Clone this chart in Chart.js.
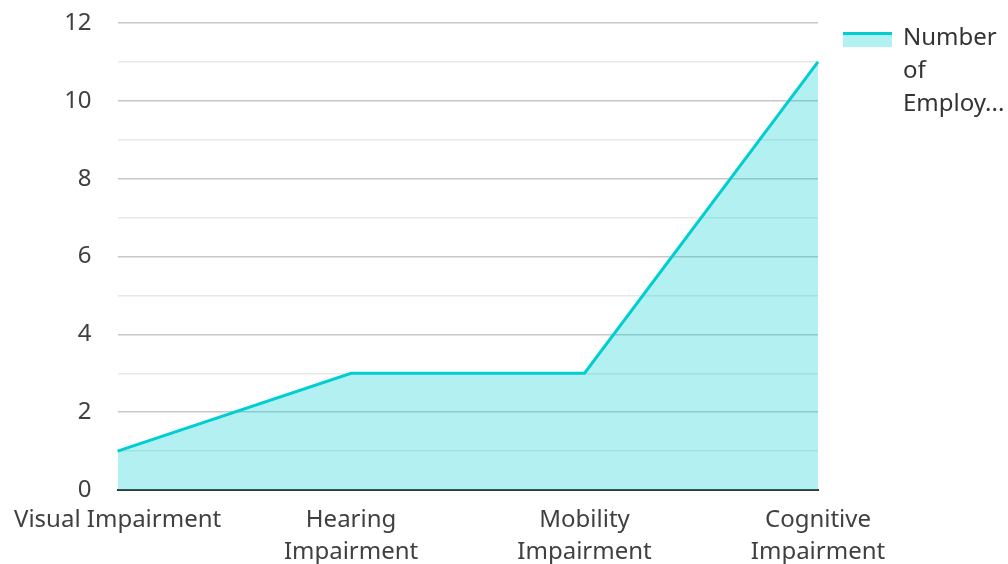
<!DOCTYPE html>
<html><head><meta charset="utf-8">
<script src="https://cdn.jsdelivr.net/npm/chart.js@4/dist/chart.umd.min.js"></script>
<style>
html,body{margin:0;padding:0;background:#fff;}
#wrap{position:relative;width:1008px;height:564px;}
#legend{position:absolute;left:843px;top:19px;font-family:"Noto Sans";font-size:24px;color:#333;line-height:33px;}
#legend .sw{position:absolute;left:0;top:13px;width:49px;height:15px;background:rgba(0,206,209,0.3);border-top:3px solid #00CED1;box-sizing:border-box;}
#legend .tx{position:absolute;left:60px;top:0;width:130px;}
</style></head>
<body>
<div id="wrap"><canvas id="c" width="1008" height="564"></canvas>
<div id="legend"><div class="sw"></div><div class="tx">Number<br>of<br>Employ...</div></div></div>
<script>
const categories = ["Visual Impairment", "Hearing Impairment", "Mobility Impairment", "Cognitive Impairment"];
const tickLabels = [["Visual Impairment"], ["Hearing", "Impairment"], ["Mobility", "Impairment"], ["Cognitive", "Impairment"]];
const seriesName = "Number of Employees";
const employees = [1, 3, 3, 11];
const yMax = 12;

const FONT = {family: "Noto Sans", size: 24, lineHeight: 1.35};
new Chart(document.getElementById('c'), {
  type: 'line',
  data: {
    labels: tickLabels,
    datasets: [{
      label: seriesName,
      data: employees,
      borderColor: '#00CED1',
      backgroundColor: 'rgba(0,206,209,0.3)',
      borderWidth: 3,
      fill: 'origin',
      tension: 0,
      pointRadius: 0,
      pointHoverRadius: 0
    }]
  },
  options: {
    responsive: false,
    animation: false,
    layout: {padding: {right: 190, top: 23, left: 0, bottom: 0}},
    plugins: {legend: {display: false}, tooltip: {enabled: false}},
    scales: {
      x: {
        offset: false,
        grid: {display: false, drawTicks: false},
        border: {display: true, color: '#333', width: 2},
        ticks: {font: FONT, color: '#404040', padding: 14, maxRotation: 0, autoSkip: false},
        afterFit: s => { s.height = 74; }
      },
      y: {
        min: 0, max: yMax,
        grid: {
          color: ctx => (ctx.tick && ctx.tick.value % 2 === 0) ? '#c8c8c8' : '#e8e8e8',
          lineWidth: 1.5, drawTicks: false
        },
        border: {display: false},
        ticks: {stepSize: 1, font: FONT, color: '#404040', padding: 26,
          callback: v => (v % 2 === 0 ? v : '')},
        afterFit: s => { s.width = 116; s.paddingTop = 0; s.paddingBottom = 0; }
      }
    }
  }
});
</script>
</body></html>
